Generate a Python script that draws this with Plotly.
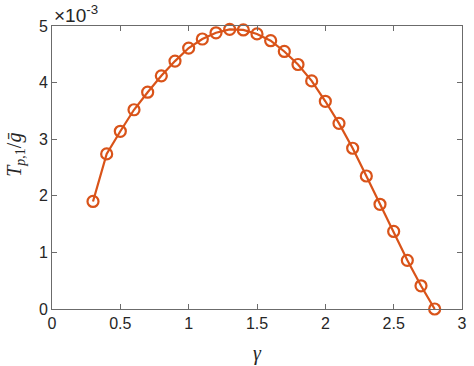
import plotly.graph_objects as go

gamma = [0.3, 0.4, 0.5, 0.6, 0.7, 0.8, 0.9, 1.0, 1.1, 1.2, 1.3, 1.4, 1.5,
         1.6, 1.7, 1.8, 1.9, 2.0, 2.1, 2.2, 2.3, 2.4, 2.5, 2.6, 2.7, 2.8]
tp_e3 = [1.90, 2.74, 3.14, 3.52, 3.83, 4.12, 4.38, 4.61, 4.77, 4.88, 4.94, 4.93, 4.86,
         4.74, 4.55, 4.32, 4.03, 3.67, 3.28, 2.84, 2.35, 1.85, 1.37, 0.86, 0.41, 0.0]
tp = [v * 1e-3 for v in tp_e3]

x_ticks = [0, 0.5, 1, 1.5, 2, 2.5, 3]
x_ticktext = ["0", "0.5", "1", "1.5", "2", "2.5", "3"]
y_ticks = [0, 1e-3, 2e-3, 3e-3, 4e-3, 5e-3]
y_ticktext = ["0", "1", "2", "3", "4", "5"]

color = "#D95319"
axcol = "#6b6b6b"
font = "Liberation Sans, Arial, sans-serif"
serif = "Liberation Serif, serif"

fig = go.Figure()
fig.add_trace(go.Scatter(
    x=gamma, y=tp, mode="lines+markers",
    line=dict(color=color, width=2.2),
    marker=dict(symbol="circle-open", size=11, color=color, line=dict(width=2.2, color=color)),
    cliponaxis=False, showlegend=False,
))

axis_common = dict(
    showline=True, linecolor=axcol, linewidth=1, mirror="ticks",
    ticks="inside", ticklen=5, tickcolor=axcol, tickwidth=1,
    showgrid=False, zeroline=False, automargin=False,
    tickfont=dict(family=font, size=16, color="#262626"),
)

fig.update_layout(
    width=474, height=366,
    margin=dict(l=52, r=12, t=26, b=57),
    paper_bgcolor="white", plot_bgcolor="white",
    xaxis=dict(range=[0, 3], tickvals=x_ticks, ticktext=x_ticktext,
               title=dict(text="<i>γ</i>", font=dict(family=serif, size=20, color="#262626"), standoff=14),
               **axis_common),
    yaxis=dict(range=[0, 5e-3], tickvals=y_ticks, ticktext=y_ticktext, **axis_common),
    annotations=[
        dict(text="×10<sup>-3</sup>", xref="paper", yref="paper", x=0, y=1,
             xanchor="left", yanchor="bottom", showarrow=False, yshift=-2,
             font=dict(family=font, size=19, color="#262626")),
        dict(text="<i>T</i><sub><i>p</i>,1</sub>/<i>ḡ</i>", xref="paper", yref="paper",
             x=0, y=0.545, xshift=-36, textangle=-90, xanchor="center", yanchor="middle",
             showarrow=False, font=dict(family=serif, size=20, color="#262626")),
    ],
)

fig.write_html("out.html")
